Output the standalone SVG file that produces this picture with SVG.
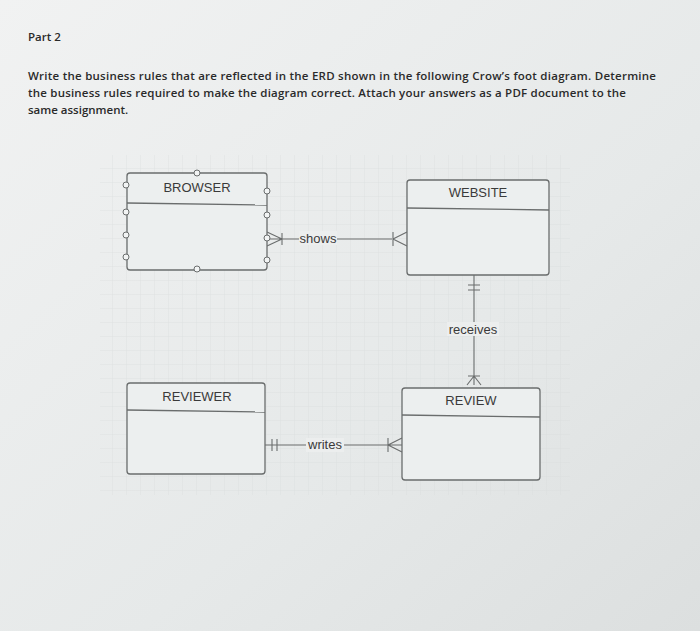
<svg xmlns="http://www.w3.org/2000/svg" width="700" height="631" viewBox="0 0 700 631">
<defs>
<linearGradient id="bg" x1="0" y1="0" x2="1" y2="1"><stop offset="0" stop-color="#f1f2f2"/><stop offset="0.6" stop-color="#e6e9e9"/><stop offset="1" stop-color="#dcdfdf"/></linearGradient>
<pattern id="grid" width="14" height="14" patternUnits="userSpaceOnUse"><path d="M14 0H0V14" fill="none" stroke="#d6dada" stroke-width="0.6"/></pattern>
<style>
.t{font-family:"Open Sans","Liberation Sans",sans-serif;fill:#2a2a2a;font-size:11.5px}
.box{fill:#ecefef;stroke:#6a6d6d;stroke-width:1.3}
.hd{stroke:#6a6d6d;stroke-width:1.3}
.lbl{font-family:"Liberation Sans",Arial,sans-serif;font-size:13px;fill:#3a3a3a;text-anchor:middle}
.ln{stroke:#6a6d6d;stroke-width:1.1;fill:none}
.c{fill:#f2f4f4;stroke:#6a6d6d;stroke-width:1}
</style>
</defs>
<rect width="700" height="631" fill="url(#bg)"/>
<rect x="100" y="155" width="470" height="340" fill="url(#grid)"/>
<text class="t" x="28" y="41" font-weight="600" font-size="12">Part 2</text>
<text class="t" x="28" y="80" font-weight="600" textLength="628">Write the business rules that are reflected in the ERD shown in the following Crow’s foot diagram. Determine</text>
<text class="t" x="28" y="97" font-weight="600" textLength="598">the business rules required to make the diagram correct. Attach your answers as a PDF document to the</text>
<text class="t" x="28" y="114" font-weight="600">same assignment.</text>
<g id="connectors">
<path class="ln" d="M267 239H392M267 232L282 239L267 246M282 233V245M393 232V246M393 239L407 232M393 239L407 246"/>
<path class="ln" d="M474 275V385M468 285H480M468 290H480M468 376H480M474 376L467 385M474 376L481 385"/>
<path class="ln" d="M265 445H402M272 439V451M277 439V451M388 438V452M388 445L402 438M388 445L402 452"/>
<rect x="299" y="231" width="38" height="14" fill="#eceeee"/>
<text class="lbl" x="318" y="243" font-size="12">shows</text>
<rect x="447" y="322" width="52" height="14" fill="#eceeee"/>
<text class="lbl" x="473" y="334" font-size="12">receives</text>
<rect x="306" y="438" width="38" height="14" fill="#eceeee"/>
<text class="lbl" x="325" y="449" font-size="12">writes</text>
</g>
<g id="browser">
<rect class="box" x="127" y="173" width="140" height="97" rx="3"/>
<line class="hd" x1="127" y1="203" x2="267" y2="205"/>
<text class="lbl" x="197" y="192">BROWSER</text>
<circle class="c" cx="197" cy="173" r="3"/><circle class="c" cx="197" cy="269" r="3"/>
<circle class="c" cx="126" cy="185" r="3"/><circle class="c" cx="126" cy="212" r="3"/><circle class="c" cx="126" cy="235" r="3"/><circle class="c" cx="126" cy="257" r="3"/>
<circle class="c" cx="267" cy="191" r="3"/><circle class="c" cx="267" cy="215" r="3"/><circle class="c" cx="267" cy="238" r="3"/><circle class="c" cx="267" cy="260" r="3"/>
</g>
<g id="website">
<rect class="box" x="407" y="180" width="142" height="95" rx="3"/>
<line class="hd" x1="407" y1="208" x2="549" y2="210"/>
<text class="lbl" x="478" y="197">WEBSITE</text>
</g>
<g id="reviewer">
<rect class="box" x="127" y="383" width="138" height="91" rx="3"/>
<line class="hd" x1="127" y1="410" x2="265" y2="412"/>
<text class="lbl" x="197" y="401">REVIEWER</text>
</g>
<g id="review">
<rect class="box" x="402" y="388" width="138" height="92" rx="3"/>
<line class="hd" x1="402" y1="415" x2="540" y2="417"/>
<text class="lbl" x="471" y="405">REVIEW</text>
</g>
</svg>
